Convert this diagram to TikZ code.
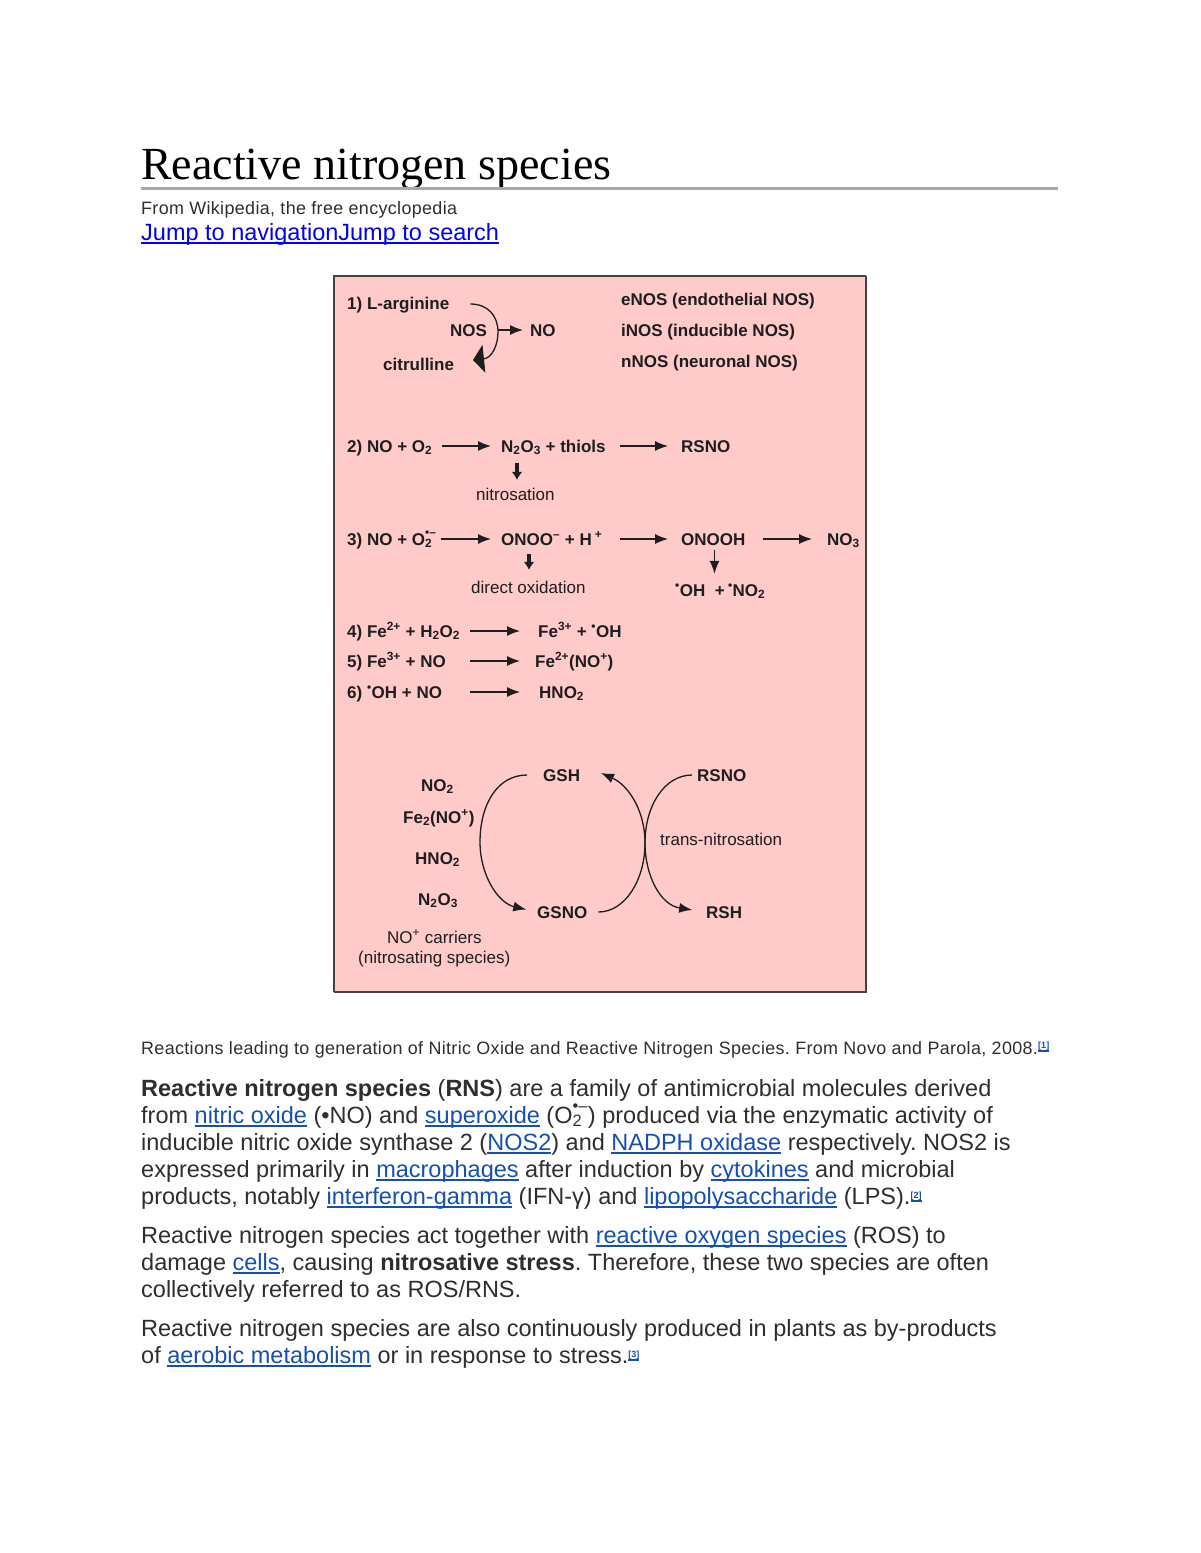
\documentclass[tikz,border=0pt]{standalone}
\usepackage{fontspec}
\setmainfont{Liberation Sans}
\newfontfamily\titlefont{Liberation Serif}
\newfontfamily\spacedfont[LetterSpace=2]{Liberation Sans}
\usetikzlibrary{arrows.meta}
\definecolor{panelpink}{HTML}{FFCACA}
\definecolor{paneledge}{HTML}{444444}
\definecolor{inktext}{HTML}{1E1E1E}
\definecolor{bodytext}{HTML}{2E2E2E}
\definecolor{wikiblue}{HTML}{1550B0}
\definecolor{jumpblue}{HTML}{0000EE}
\definecolor{rulegrey}{HTML}{A2A9B1}
\newcommand{\lineunder}[1]{\leavevmode\setbox0=\hbox{#1}\rlap{\raisebox{-3.5pt}{\rule{\wd0}{1.2pt}}}\box0 }
\newcommand{\wikilink}[1]{\textcolor{wikiblue}{\lineunder{#1}}}
\newcommand{\wikiref}[1]{\raisebox{6pt}{\fontsize{9}{10}\selectfont\textbf{\wikilink{[#1]}}}}
\tikzset{
  chem/.style={anchor=base west,inner sep=0pt,text height=12pt,text depth=0pt,text=inktext,font=\fontsize{17}{20}\selectfont\bfseries},
  note/.style={chem,font=\fontsize{17}{20}\selectfont},
  bodyline/.style={anchor=base west,inner sep=0pt,text=bodytext,font=\frenchspacing\fontsize{23.5}{27}\selectfont},
  rxnarrow/.style={->,line width=1.3pt,draw=inktext,shorten <=#1,shorten >=#1},
  rxnarrow/.default=10pt,
  fatarrow/.style={-{Latex[length=8pt,width=11pt]},line width=3.4pt,draw=inktext},
  cyclearrow/.style={->,line width=1.3pt,draw=inktext}
}
\begin{document}
\begin{tikzpicture}[x=1pt,y=-1pt,>={Latex[length=13pt,width=10pt]}]
  \useasboundingbox (0,0) rectangle (1200,1553);
  % header
  \node[bodyline,text=black,font=\fontsize{46}{48}\titlefont] (title) at (141,179) {Reactive nitrogen species};
  \draw[rulegrey,line width=3pt] (141,188) -- (1058,188);
  \node[bodyline,font=\fontsize{17.9}{20}\spacedfont] (fromwiki) at (141,214) {From Wikipedia, the free encyclopedia};
  \node[bodyline,text=jumpblue] (jump) at (141,240) {\lineunder{Jump to navigationJump to search}};
  % panel
  \fill[panelpink] (334,276) rectangle (866,992);
  \draw[paneledge,line width=1.6pt] (334,992) -- (334,276) -- (866,276);
  \draw[paneledge,line width=2.2pt] (866,276) -- (866,992) -- (334,992);
  % reaction 1
  \node[chem] (larg) at (347,309) {1) L-arginine};
  \node[chem] (nos) at (450,336) {NOS};
  \node[chem] (no) at (530,336) {NO};
  \node[chem] (citr) at (383,370) {citrulline};
  \node[chem] (enos) at (621,305) {eNOS (endothelial NOS)};
  \node[chem] (inos) at (621,336) {iNOS (inducible NOS)};
  \node[chem] (nnos) at (621,367) {nNOS (neuronal NOS)};
  \coordinate (citrtip) at (473,360);
  \draw[line width=1.3pt,draw=inktext,-{Triangle[length=11pt,width=28pt]},shorten <=21pt] (larg.east) ++(0,1) .. controls (488,304) and (498,316) .. (498,332) .. controls (498,345) and (492,358) .. (citrtip);
  \draw[rxnarrow=0pt,shorten <=11pt,shorten >=7pt] (nos) -- (no);
  % reaction 2
  \node[chem] (r2a) at (347,452) {2) NO + O\textsubscript{2}};
  \node[chem] (r2b) at (501,452) {N\textsubscript{2}O\textsubscript{3} + thiols};
  \node[chem] (r2c) at (681,452) {RSNO};
  \node[note] (nitro) at (476,500) {nitrosation};
  \coordinate (nitrotop) at (517,463);
  \draw[rxnarrow] (r2a) -- (r2b);
  \draw[rxnarrow=0pt,shorten <=14pt,shorten >=13pt] (r2b) -- (r2c);
  \draw[fatarrow,shorten >=8pt] (nitrotop) -- (nitrotop |- nitro.north);
  % reaction 3
  \node[chem] (r3a) at (347,545) {3) NO + O\rlap{\textsubscript{2}}\raisebox{2pt}{\textsuperscript{•–}}};
  \node[chem] (r3b) at (501,545) {ONOO\textsuperscript{–} + H\,\textsuperscript{+}};
  \node[chem] (r3c) at (681,545) {ONOOH};
  \node[chem] (r3d) at (827,545) {NO\textsubscript{3}};
  \node[note] (doxid) at (471,593) {direct oxidation};
  \node[chem] (ohno) at (675,596) {\textsuperscript{•}OH\ \ +\textsuperscript{\ •}NO\textsubscript{2}};
  \draw[rxnarrow=0pt,shorten <=4pt,shorten >=10pt] (r3a) -- (r3b);
  \draw[rxnarrow=0pt,shorten <=18pt,shorten >=13pt] (r3b) -- (r3c);
  \draw[rxnarrow=0pt,shorten <=17pt,shorten >=15pt] (r3c) -- (r3d);
  \coordinate (doxidtop) at (529,554);
  \draw[fatarrow,shorten >=11pt] (doxidtop) -- (doxidtop |- doxid.north);
  \coordinate (ohnotop) at (714.5,550);
  \draw[cyclearrow,shorten >=10pt] (ohnotop) -- (ohnotop |- ohno.north);
  % reactions 4 to 6
  \node[chem] (r4a) at (347,637) {4) Fe\textsuperscript{2+} + H\textsubscript{2}O\textsubscript{2}};
  \node[chem] (r4b) at (538,637) {Fe\textsuperscript{3+} + \textsuperscript{•}OH};
  \node[chem] (r5a) at (347,667) {5) Fe\textsuperscript{3+} + NO};
  \node[chem] (r5b) at (535,667) {Fe\textsuperscript{2+}(NO\textsuperscript{+})};
  \node[chem] (r6a) at (347,698) {6) \textsuperscript{•}OH + NO};
  \node[chem] (r6b) at (539,698) {HNO\textsubscript{2}};
  \draw[rxnarrow=0pt,shorten <=10pt,shorten >=18pt] (r4a) -- (r4b);
  \draw[rxnarrow=0pt,shorten <=24pt,shorten >=15pt] (r5a) -- (r5b);
  \draw[rxnarrow=0pt,shorten <=28pt,shorten >=19pt] (r6a) -- (r6b);
  % cycle
  \node[chem] (no2) at (421,791) {NO\textsubscript{2}};
  \node[chem] (fe2) at (403,823) {Fe\textsubscript{2}(NO\textsuperscript{+})};
  \node[chem] (hno2) at (415,864) {HNO\textsubscript{2}};
  \node[chem] (n2o3) at (418,905) {N\textsubscript{2}O\textsubscript{3}};
  \node[note] (carriers) at (387,943) {NO\textsuperscript{+} carriers};
  \node[note] (nitrosating) at (358,963) {(nitrosating species)};
  \node[chem] (gsh) at (543,781) {GSH};
  \node[chem] (rsno) at (697,781) {RSNO};
  \node[chem] (gsno) at (537,918) {GSNO};
  \node[chem] (rsh) at (706,918) {RSH};
  \node[note] (transn) at (660,845) {trans-nitrosation};
  \coordinate (gshtip) at (601,773);
  \draw[cyclearrow,shorten <=16pt,shorten >=11pt] (gsh.west) .. controls (497,775) and (480,805) .. (480,842) .. controls (480,875) and (498,903) .. (gsno.west);
  \draw[cyclearrow,shorten <=11pt] (gsno.east) .. controls (625,912) and (645,880) .. (645,843) .. controls (645,810) and (628,785) .. (gshtip);
  \draw[cyclearrow,shorten <=5pt,shorten >=14pt] (rsno.west) .. controls (665,775) and (645,805) .. (645,843) .. controls (645,875) and (660,905) .. (rsh.west);
  % article text
  \node[bodyline,font=\frenchspacing\fontsize{17.9}{20}\spacedfont] (caption) at (141,1054) {Reactions leading to generation of Nitric Oxide and Reactive Nitrogen Species. From Novo and Parola, 2008.\wikiref{1}};
  \node[bodyline] (p1a) at (141,1096) {\textbf{Reactive nitrogen species} (\textbf{RNS}) are a family of antimicrobial molecules derived};
  \node[bodyline] (p1b) at (141,1123) {from \wikilink{nitric oxide} (•NO) and \wikilink{superoxide} (O\rlap{\textsubscript{2}}\raisebox{2.5pt}{\textsuperscript{•–}}) produced via the enzymatic activity of};
  \node[bodyline] (p1c) at (141,1150) {inducible nitric oxide synthase 2 (\wikilink{NOS2}) and \wikilink{NADPH oxidase} respectively. NOS2 is};
  \node[bodyline] (p1d) at (141,1177) {expressed primarily in \wikilink{macrophages} after induction by \wikilink{cytokines} and microbial};
  \node[bodyline] (p1e) at (141,1204) {products, notably \wikilink{interferon-gamma} (IFN-γ) and \wikilink{lipopolysaccharide} (LPS).\wikiref{2}};
  \node[bodyline] (p2a) at (141,1243) {Reactive nitrogen species act together with \wikilink{reactive oxygen species} (ROS) to};
  \node[bodyline] (p2b) at (141,1270) {damage \wikilink{cells}, causing \textbf{nitrosative stress}. Therefore, these two species are often};
  \node[bodyline] (p2c) at (141,1297) {collectively referred to as ROS/RNS.};
  \node[bodyline] (p3a) at (141,1336) {Reactive nitrogen species are also continuously produced in plants as by-products};
  \node[bodyline] (p3b) at (141,1363) {of \wikilink{aerobic metabolism} or in response to stress.\wikiref{3}};
\end{tikzpicture}
\end{document}
